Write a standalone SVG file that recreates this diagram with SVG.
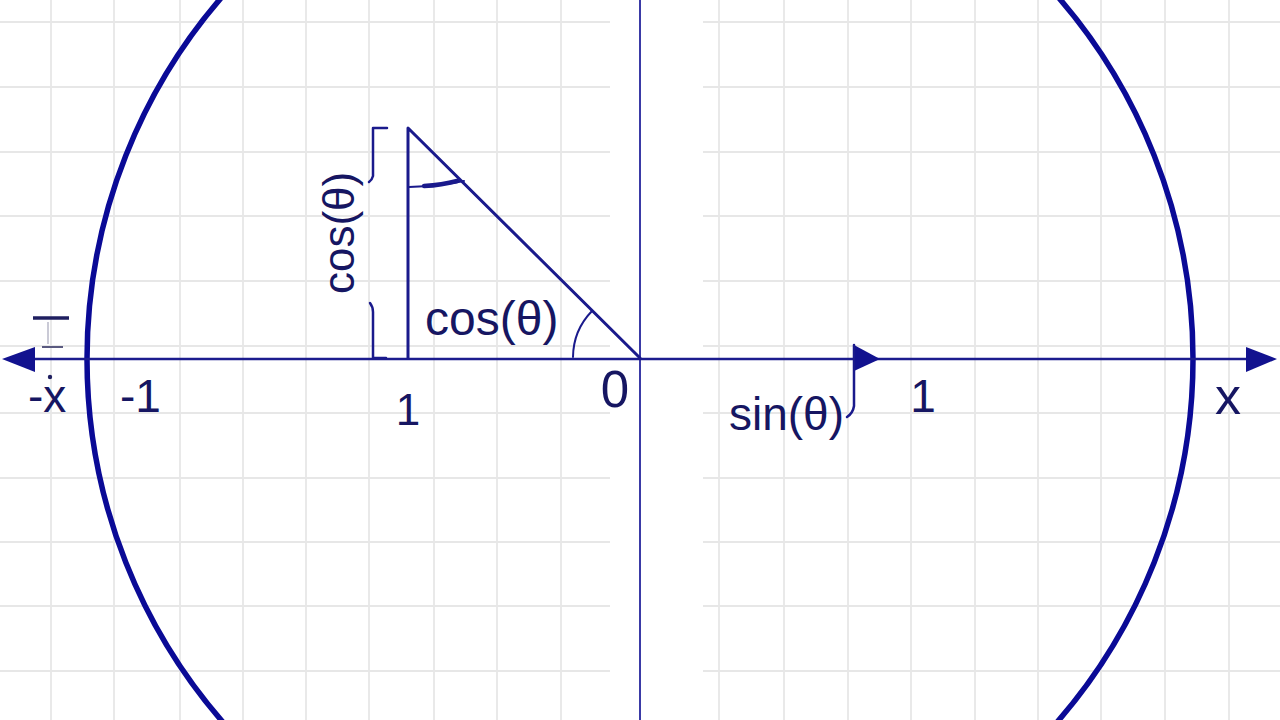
<svg xmlns="http://www.w3.org/2000/svg" width="1280" height="720" viewBox="0 0 1280 720">
  <style>
    .grid line { stroke: #e7e7e7; stroke-width: 1.8; }
    .lbl { font-family: "Liberation Sans", Arial, sans-serif; fill: #161662; }
    .ink { fill: none; stroke: #1a1a8c; stroke-linecap: round; stroke-linejoin: round; }
  </style>
  <rect width="1280" height="720" fill="#ffffff"/>
  <g id="grid" class="grid">
    <line x1="51" y1="0" x2="51" y2="720"/>
    <line x1="114" y1="0" x2="114" y2="720"/>
    <line x1="180" y1="0" x2="180" y2="720"/>
    <line x1="243" y1="0" x2="243" y2="720"/>
    <line x1="306" y1="0" x2="306" y2="720"/>
    <line x1="369" y1="0" x2="369" y2="720"/>
    <line x1="434" y1="0" x2="434" y2="720"/>
    <line x1="497" y1="0" x2="497" y2="720"/>
    <line x1="561" y1="0" x2="561" y2="720"/>
    <line x1="719" y1="0" x2="719" y2="720"/>
    <line x1="784" y1="0" x2="784" y2="720"/>
    <line x1="848" y1="0" x2="848" y2="720"/>
    <line x1="911" y1="0" x2="911" y2="720"/>
    <line x1="975" y1="0" x2="975" y2="720"/>
    <line x1="1038" y1="0" x2="1038" y2="720"/>
    <line x1="1101" y1="0" x2="1101" y2="720"/>
    <line x1="1165" y1="0" x2="1165" y2="720"/>
    <line x1="1229" y1="0" x2="1229" y2="720"/>
    <line x1="0" y1="22" x2="610" y2="22"/>
    <line x1="0" y1="87" x2="610" y2="87"/>
    <line x1="0" y1="152" x2="610" y2="152"/>
    <line x1="0" y1="216" x2="610" y2="216"/>
    <line x1="0" y1="281" x2="610" y2="281"/>
    <line x1="0" y1="346" x2="610" y2="346"/>
    <line x1="0" y1="413" x2="610" y2="413"/>
    <line x1="0" y1="478" x2="610" y2="478"/>
    <line x1="0" y1="542" x2="610" y2="542"/>
    <line x1="0" y1="606" x2="610" y2="606"/>
    <line x1="0" y1="671" x2="610" y2="671"/>
    <line x1="703" y1="22" x2="1280" y2="22"/>
    <line x1="703" y1="87" x2="1280" y2="87"/>
    <line x1="703" y1="152" x2="1280" y2="152"/>
    <line x1="703" y1="216" x2="1280" y2="216"/>
    <line x1="703" y1="281" x2="1280" y2="281"/>
    <line x1="703" y1="346" x2="1280" y2="346"/>
    <line x1="703" y1="413" x2="1280" y2="413"/>
    <line x1="703" y1="478" x2="1280" y2="478"/>
    <line x1="703" y1="542" x2="1280" y2="542"/>
    <line x1="703" y1="606" x2="1280" y2="606"/>
    <line x1="703" y1="671" x2="1280" y2="671"/>
  </g>
  <g id="circle">
    <circle cx="640" cy="359" r="553" fill="none" stroke="#0a0a96" stroke-width="5.5"/>
  </g>
  <g id="connectors">
    <line x1="640" y1="0" x2="640" y2="720" stroke="#3a3aa6" stroke-width="2"/>
    <line x1="20" y1="359" x2="1262" y2="359" stroke="#1c1c8e" stroke-width="2.5"/>
    <polygon points="2,359 35,347 35,372" fill="#12128f"/>
    <polygon points="1277,359 1246,347 1246,372" fill="#12128f"/>
    <polygon points="880,359 854,345 854,371" fill="#12128f"/>
    <path class="ink" d="M854,345 L854,406 Q853,413 847,417" stroke-width="2.5"/>
  </g>
  <g id="triangle">
    <path class="ink" d="M408,358 L408,128 L640,358" stroke-width="3"/>
    <path class="ink" d="M409,187 Q440,186 464,181" stroke-width="2"/>
    <path class="ink" d="M424,186 Q442,185 457,181" stroke-width="4.5"/>
    <path class="ink" d="M573,357 A67,67 0 0 1 592,311" stroke-width="2"/>
  </g>
  <g id="bracket">
    <path class="ink" d="M387,128 L373,128 L373,176 Q372,180 369,182" stroke-width="2.5"/>
    <path class="ink" d="M370,303 Q373,307 373,312 L373,358 L386,358" stroke-width="2.5"/>
  </g>
  <g id="marks">
    <line x1="33" y1="318" x2="69" y2="318" stroke="#1f1f60" stroke-width="3.5"/>
    <line x1="48" y1="322" x2="48" y2="344" stroke="#b8b8c8" stroke-width="1.5"/>
    <line x1="42" y1="347" x2="63" y2="347" stroke="#5a5a80" stroke-width="2"/>
    <circle cx="50" cy="377" r="2.2" fill="#1f1f60"/>
  </g>
  <g id="labels">
    <text class="lbl" x="425" y="335" font-size="48">cos(θ)</text>
    <text class="lbl" transform="translate(354,294) rotate(-90)" font-size="44">cos(θ)</text>
    <text class="lbl" x="729" y="430" font-size="46">sin(θ)</text>
    <text class="lbl" x="408" y="425" font-size="44" text-anchor="middle">1</text>
    <text class="lbl" x="615" y="407" font-size="51" text-anchor="middle">0</text>
    <text class="lbl" x="120" y="412" font-size="46">-1</text>
    <text class="lbl" x="923" y="412" font-size="46" text-anchor="middle">1</text>
    <text class="lbl" x="1228" y="414" font-size="52" text-anchor="middle">x</text>
    <text class="lbl" x="28" y="412" font-size="46">-x</text>
  </g>
</svg>
